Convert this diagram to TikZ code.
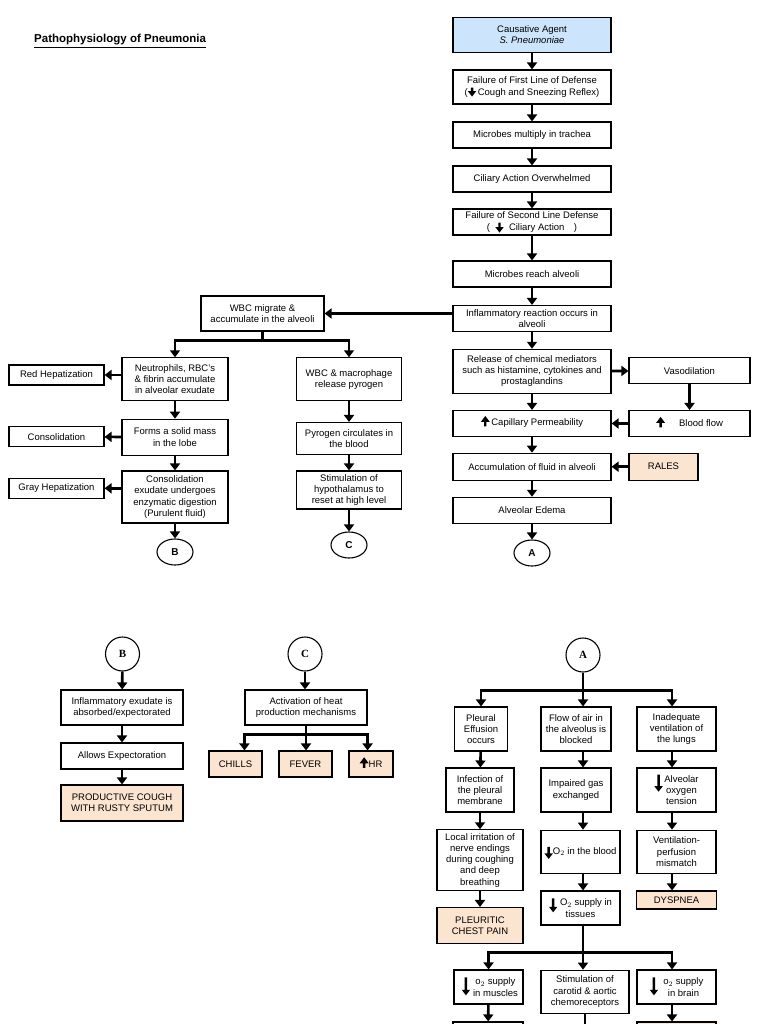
\documentclass[tikz,border=0pt]{standalone}
\usepackage{fontspec}
\setmainfont{Liberation Sans}
\newfontfamily\serifbf{Liberation Serif}
\usepackage{tikz}
\usetikzlibrary{arrows.meta}
\usetikzlibrary{shapes.geometric}
\definecolor{agent-blue}{HTML}{CCE4FC}
\definecolor{sign-peach}{HTML}{FBE4D0}

% Small arrow glyphs used inside the boxes
\newcommand{\dnarr}[1]{\smash{\tikz[baseline=0pt]\fill (-1.2pt,7.5pt) -- (1.2pt,7.5pt) -- (1.2pt,{(13-#1)*1pt}) -- (4.2pt,{(13-#1)*1pt}) -- (0pt,{(7.5-#1)*1pt}) -- (-4.2pt,{(13-#1)*1pt}) -- (-1.2pt,{(13-#1)*1pt}) -- cycle;}}
\newcommand{\uparr}{\smash{\tikz[baseline=0pt]\fill (-1.2pt,-0.5pt) -- (1.2pt,-0.5pt) -- (1.2pt,4pt) -- (4.5pt,4pt) -- (0pt,10pt) -- (-4.5pt,4pt) -- (-1.2pt,4pt) -- cycle;}}

\begin{document}
\begin{tikzpicture}[x=1pt,y=-1pt,
    box/.style={draw, line width=1.1pt, fill=white, align=center, inner sep=1pt, font=\fontsize{9.5}{11.2}\selectfont},
    wh/.style 2 args={minimum width=#1pt, minimum height=#2pt},
    agent/.style={box, fill=agent-blue},
    sign/.style={box, fill=sign-peach},
    link/.style={draw, line width=1.1pt, ellipse, inner sep=0pt, minimum width=36pt, minimum height=26pt, font=\bfseries\fontsize{10}{12}\selectfont},
    joint/.style={draw, line width=1.1pt, circle, inner sep=0pt, minimum size=34pt, font=\serifbf\bfseries\fontsize{11}{12}\selectfont},
    wire/.style={line width=2.6pt},
    conn/.style={wire, -{Triangle[length=7pt,width=10pt]}},
    ]

\useasboundingbox (0,0) rectangle (768,1024);
\clip (0,0) rectangle (768,1024);

% Title
\node[anchor=west, inner sep=0pt, font=\bfseries\fontsize{11.5}{13}\selectfont] (title) at (34,41) {\underline{Pathophysiology of Pneumonia}};

% Main column
\node[agent, wh={158}{35}] (cause) at (532,35) {Causative Agent\\\textit{S. Pneumoniae}};
\node[box, wh={158}{34}] (defense1) at (532,87) {Failure of First Line of Defense\\(\dnarr{9}\,Cough and Sneezing Reflex)};
\node[box, wh={158}{26}] (multiply) at (532,135) {Microbes multiply in trachea};
\node[box, wh={158}{26}] (ciliary) at (532,179) {Ciliary Action Overwhelmed};
\node[box, wh={158}{26}] (defense2) at (532,222) {Failure of Second Line Defense\\(\ \ \dnarr{10}\ \ Ciliary Action\quad)};
\node[box, wh={158}{26}] (alveoli) at (532,274) {Microbes reach alveoli};
\node[box, wh={158}{26}] (inflam) at (532,318.5) {Inflammatory reaction occurs in\\alveoli};
\node[box, wh={158}{44}] (mediators) at (532,371.3) {Release of chemical mediators\\such as histamine, cytokines and\\prostaglandins};
\node[box, wh={158}{26}] (permeab) at (532,423.5) {\uparr\,Capillary Permeability};
\node[box, wh={158}{27}] (fluid) at (532,466.7) {Accumulation of fluid in alveoli};
\node[box, wh={158}{26}] (edema) at (532,510.3) {Alveolar Edema};
\node[link] (linkA) at (532,553) {A};

% Right of the main column
\node[box, wh={121}{26}] (vaso) at (689.5,370.7) {Vasodilation};
\node[box, wh={121}{26}] (bloodflow) at (689.5,423.5) {\uparr\hspace{14pt}Blood flow};
\node[sign, wh={69}{27}] (rales) at (663.5,466.7) {RALES};

% WBC branch
\node[box, wh={123}{35}] (wbc) at (262.5,313.5) {WBC migrate \&\\accumulate in the alveoli};
\node[box, wh={106}{43}] (neutro) at (175,379.3) {Neutrophils, RBC's\\\& fibrin accumulate\\in alveolar exudate};
\node[box, wh={105}{43}] (pyrogen) at (349,379.3) {WBC \& macrophage\\release pyrogen};
\node[box, wh={106}{36}] (mass) at (175,437.2) {Forms a solid mass\\in the lobe};
\node[box, wh={105}{32}] (circul) at (349,438.5) {Pyrogen circulates in\\the blood};
\node[box, wh={106}{52}] (digest) at (175,497) {Consolidation\\exudate undergoes\\enzymatic digestion\\(Purulent fluid)};
\node[box, wh={105}{38}] (hypoth) at (349,490) {Stimulation of\\hypothalamus to\\reset at high level};
\node[box, wh={95}{20}] (redhep) at (56.5,375) {Red Hepatization};
\node[box, wh={95}{20}] (consol) at (56.5,436.7) {Consolidation};
\node[box, wh={95}{20}] (grayhep) at (56.5,488.3) {Gray Hepatization};
\node[link] (linkB) at (175,552) {B};
\node[link] (linkC) at (349,545) {C};

% Continuation B
\node[joint] (jointB) at (122.5,654) {B};
\node[box, wh={122}{35}] (absorb) at (122,707.5) {Inflammatory exudate is\\absorbed/expectorated};
\node[box, wh={122}{26}] (expect) at (122,756) {Allows Expectoration};
\node[sign, wh={122}{36}] (cough) at (122,803) {PRODUCTIVE COUGH\\WITH RUSTY SPUTUM};

% Continuation C
\node[joint] (jointC) at (305,654) {C};
\node[box, wh={122}{35}] (heat) at (306,707.5) {Activation of heat\\production mechanisms};
\node[sign, wh={53}{26}] (chills) at (235.5,764) {CHILLS};
\node[sign, wh={53}{26}] (fever) at (305.5,764) {FEVER};
\node[sign, wh={44}{26}] (hr) at (371,764) {\uparr HR};

% Continuation A
\node[joint] (jointA) at (583,655) {A};
\coordinate (colR) at (672,700);
\node[box, wh={53}{44}] (effusion) at (481,729) {Pleural\\Effusion\\occurs};
\node[box, wh={70}{44}] (airflow) at (576,729) {Flow of air in\\the alveolus is\\blocked};
\node[box, wh={79}{44}] (ventil) at (676.5,729) {Inadequate\\ventilation of\\the lungs};
\node[box, wh={68}{44}] (infect) at (480,790) {Infection of\\the pleural\\membrane};
\node[box, wh={70}{44}] (gas) at (576,790) {Impaired gas\\exchanged};
\node[box, wh={79}{44}] (tension) at (676.5,790) {\dnarr{17}\,Alveolar\\\hspace*{10pt}oxygen\\\hspace*{10pt}tension};
\node[box, wh={86}{61}] (irritate) at (480,860.3) {Local irritation of\\nerve endings\\during coughing\\and deep\\breathing};
\node[box, wh={79}{43}] (oxblood) at (580.5,851.7) {\dnarr{12}O$_2$ in the blood};
\node[box, wh={79}{43}] (mismatch) at (676.5,851.7) {Ventilation-\\perfusion\\mismatch};
\node[sign, wh={86}{36}] (chestpain) at (480,925.5) {PLEURITIC\\CHEST PAIN};
\node[box, wh={79}{34}] (oxtissue) at (580.5,908) {\dnarr{14}\ O$_2$ supply in\\tissues};
\node[sign, wh={80}{18}] (dyspnea) at (676.5,900) {DYSPNEA};
\node[box, wh={69}{34}] (muscle) at (488.5,987) {\dnarr{18}\ \ o$_2$ supply\\\hspace*{14pt}in muscles};
\node[box, wh={88}{43}] (carotid) at (585,991.7) {Stimulation of\\carotid \& aortic\\chemoreceptors};
\node[box, wh={79}{34}] (brain) at (676.5,987) {\dnarr{18}\ \ o$_2$ supply\\\hspace*{14pt}in brain};
\node[box, wh={70}{40}] (muscle2) at (488,1042) {};
\node[sign, wh={79}{40}] (brain2) at (676.5,1042) {};
\coordinate (carotid2) at (585,1036);

% Main column arrows
\draw[conn] (cause) -- (defense1);
\draw[conn] (defense1) -- (multiply);
\draw[conn] (multiply) -- (ciliary);
\draw[conn] (ciliary) -- (defense2);
\draw[conn] (defense2) -- (alveoli);
\draw[conn] (alveoli) -- (inflam);
\draw[conn] (inflam) -- (mediators);
\draw[conn] (mediators) -- (permeab);
\draw[conn] (permeab) -- (fluid);
\draw[conn] (fluid) -- (edema);
\draw[conn] (edema) -- (linkA);
\draw[conn] (mediators) -- (vaso);
\draw[conn] (vaso) -- (bloodflow);
\draw[conn] (bloodflow) -- (permeab);
\draw[conn] (rales) -- (fluid);
\draw[conn] (inflam.west |- wbc) -- (wbc);

% WBC branch arrows
\draw[wire] (wbc.south) -- ++(0,9) coordinate (wbcfork);
\draw[conn] (wbcfork) -| (neutro.north);
\draw[conn] (wbcfork) -| (pyrogen.north);
\draw[conn] (neutro) -- (mass);
\draw[conn] (mass) -- (digest);
\draw[conn] (digest) -- (linkB);
\draw[conn] (pyrogen) -- (circul);
\draw[conn] (circul) -- (hypoth);
\draw[conn] (hypoth) -- (linkC);
\draw[conn] (neutro.west |- redhep) -- (redhep);
\draw[conn] (mass) -- (consol);
\draw[conn] (digest.west |- grayhep) -- (grayhep);

% B and C arrows
\draw[conn] (jointB) -- (absorb);
\draw[conn] (absorb) -- (expect);
\draw[conn] (expect) -- (cough);
\draw[conn] (jointC) -- (jointC |- heat.north);
\draw[wire] (heat.south) -- ++(0,9) coordinate (heatfork);
\draw[conn] (heatfork) -| (heat.west |- chills.north);
\draw[conn] (heatfork) -- (heatfork |- fever.north);
\draw[conn] (heatfork) -| (heat.east |- hr.north);

% A arrows
\draw[wire] (jointA.south) -- ++(0,18) coordinate (afork);
\draw[conn] (afork) -| (effusion.north);
\draw[conn] (afork) -- (afork |- airflow.north);
\draw[conn] (afork) -| (colR |- ventil.north);
\draw[conn] (effusion) -- (infect);
\draw[conn] (infect) -- (irritate);
\draw[conn] (irritate) -- (chestpain);
\draw[conn] (airflow.south -| jointA) -- (gas.north -| jointA);
\draw[conn] (gas.south -| jointA) -- (oxblood.north -| jointA);
\draw[conn] (oxblood.south -| jointA) -- (oxtissue.north -| jointA);
\draw[conn] (ventil.south -| colR) -- (tension.north -| colR);
\draw[conn] (tension.south -| colR) -- (mismatch.north -| colR);
\draw[conn] (mismatch.south -| colR) -- (dyspnea.north -| colR);
\draw[wire] (oxtissue.south -| jointA) -- ++(0,27) coordinate (tfork);
\draw[conn] (tfork) -| (muscle.north);
\draw[conn] (tfork) -- (tfork |- carotid.north);
\draw[conn] (tfork) -| (colR |- brain.north);
\draw[conn] (muscle) -- (muscle2);
\draw[conn] (carotid) -- (carotid2);
\draw[conn] (brain.south -| colR) -- (brain2.north -| colR);

\end{tikzpicture}
\end{document}
